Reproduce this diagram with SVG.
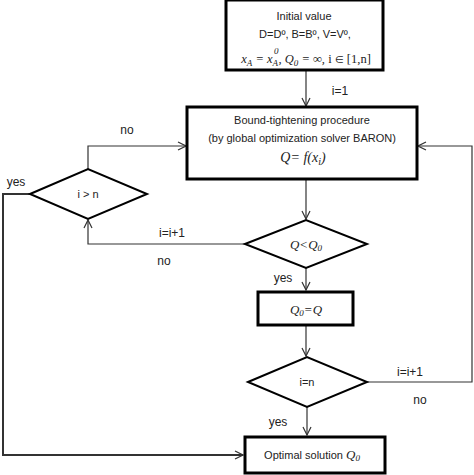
<svg xmlns="http://www.w3.org/2000/svg" width="474" height="475" viewBox="0 0 474 475">
<style>
.box{fill:#fff;stroke:#000;stroke-width:3}
.dia{fill:#fff;stroke:#000;stroke-width:2}
.con{fill:none;stroke:#333;stroke-width:1.2}
.t{font-family:"Liberation Sans",Arial,sans-serif;font-size:11px;fill:#222}
.lbl{font-family:"Liberation Sans",Arial,sans-serif;font-size:12px;fill:#222}
.m{font-family:"Liberation Serif","Times New Roman",serif;font-style:italic;fill:#222}
</style>
<defs>
<marker id="arr" markerWidth="10" markerHeight="10" refX="9" refY="5" orient="auto" markerUnits="userSpaceOnUse">
<path d="M1,1 L9,5 L1,9" fill="none" stroke="#333" stroke-width="1.2"/>
</marker>
</defs>
<rect width="474" height="475" fill="#fff"/>
<g id="connectors">
<line class="con" x1="306" y1="70" x2="306" y2="106" marker-end="url(#arr)"/>
<line class="con" x1="306" y1="180" x2="306" y2="219" marker-end="url(#arr)"/>
<line class="con" x1="306" y1="268" x2="306" y2="290" marker-end="url(#arr)"/>
<line class="con" x1="306" y1="326" x2="306" y2="356" marker-end="url(#arr)"/>
<line class="con" x1="307" y1="407" x2="307" y2="435" marker-end="url(#arr)"/>
<polyline class="con" points="245,244 88,244 88,220" marker-end="url(#arr)"/>
<polyline class="con" points="88,169 88,146 186,146" marker-end="url(#arr)"/>
<polyline class="con" points="367,382 472,382 472,146 418,146" marker-end="url(#arr)"/>
<polyline class="con" style="stroke-width:2" points="30,194 3,194 3,455 243,455" marker-end="url(#arr)"/>
</g>
<g id="initial">
<rect class="box" x="226" y="0" width="157" height="70"/>
<text class="t" x="304" y="20" text-anchor="middle">Initial value</text>
<text class="t" x="305" y="38" text-anchor="middle">D=Dº, B=Bº, V=Vº,</text>
<text class="m" x="306" y="63" text-anchor="middle" font-size="12.5">x<tspan font-size="9" dy="3">A</tspan><tspan dy="-3"> = x</tspan><tspan font-size="9" dy="3">A</tspan><tspan font-size="9" dx="-4" dy="-12">0</tspan><tspan dy="9">, Q</tspan><tspan font-size="9" dy="3">0</tspan><tspan dy="-3"> = ∞, </tspan><tspan font-style="normal">i </tspan><tspan font-style="normal" font-size="10">∈</tspan><tspan font-style="normal"> [1,n]</tspan></text>
</g>
<g id="bound">
<rect class="box" x="187" y="107" width="230" height="72"/>
<text class="t" x="302" y="124" text-anchor="middle" font-size="12.5">Bound-tightening procedure</text>
<text class="t" x="302" y="142" text-anchor="middle" font-size="12.5">(by global optimization solver BARON)</text>
<text class="m" x="303" y="162" text-anchor="middle" font-size="14">Q= f(x<tspan font-size="10" dy="3">i</tspan><tspan dy="-3">)</tspan></text>
</g>
<g id="dec-i-gt-n">
<polygon class="dia" points="30,194 88,169 147,194 88,219"/>
<text class="t" x="88" y="198" text-anchor="middle">i &gt; n</text>
</g>
<g id="dec-q-lt-q0">
<polygon class="dia" points="245,244 306,220 367,244 306,268"/>
<text class="m" x="306" y="249" text-anchor="middle" font-size="13">Q&lt;Q<tspan font-size="9" dy="2">0</tspan></text>
</g>
<g id="update">
<rect class="box" x="258" y="292" width="95" height="33"/>
<text class="m" x="306" y="314" text-anchor="middle" font-size="13">Q<tspan font-size="9" dy="2">0</tspan><tspan dy="-2">=Q</tspan></text>
</g>
<g id="dec-i-eq-n">
<polygon class="dia" points="248,382 307,357 367,382 307,407"/>
<text class="t" x="307" y="386" text-anchor="middle">i=n</text>
</g>
<g id="optimal">
<rect class="box" x="245" y="437" width="140" height="36"/>
<text class="t" x="312" y="459" text-anchor="middle" font-size="12">Optimal solution <tspan class="m" font-size="13">Q</tspan><tspan class="m" font-size="9" dy="2">0</tspan></text>
</g>
<g id="labels">
<text class="lbl" x="340" y="95" text-anchor="middle">i=1</text>
<text class="lbl" x="127" y="134" text-anchor="middle">no</text>
<text class="lbl" x="16" y="186" text-anchor="middle">yes</text>
<text class="lbl" x="172" y="237" text-anchor="middle">i=i+1</text>
<text class="lbl" x="164" y="265" text-anchor="middle">no</text>
<text class="lbl" x="283" y="282" text-anchor="middle">yes</text>
<text class="lbl" x="410" y="376" text-anchor="middle">i=i+1</text>
<text class="lbl" x="420" y="404" text-anchor="middle">no</text>
<text class="lbl" x="278" y="426" text-anchor="middle">yes</text>
</g>
</svg>
